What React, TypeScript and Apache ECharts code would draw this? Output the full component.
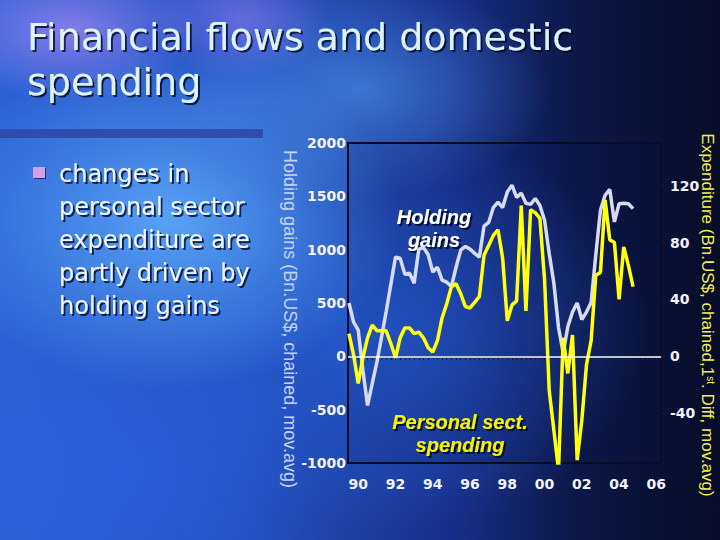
import React, { useEffect, useRef } from "react";
import * as echarts from "echarts";

// Quarterly observations, first one in mid-1989
const startYear = 1989.5;
const quarterStep = 0.25;

// Holding gains (Bn.US$, chained, mov.avg) - left axis
const holdingGains = [
  500, 320, 245, -130, -460, -255, -55, 180, 420, 675,
  930, 920, 770, 780, 685, 1005, 1020, 955, 790, 835,
  715, 695, 655, 835, 995, 1030, 1005, 965, 930, 1220,
  1255, 1395, 1445, 1395, 1540, 1605, 1490, 1530, 1435, 1425,
  1480, 1415, 1275, 965, 685, 270, 30, 280, 415, 500,
  345, 415, 505, 950, 1370, 1510, 1565, 1260, 1430, 1435,
  1430, 1385,
];

// Personal sector spending (Bn.US$, chained, 1st diff, mov.avg) - right axis
const spending = [
  16, 1, -19, -1, 13, 22, 18, 18, 18, 9,
  -1, 13, 20, 20, 16, 17, 13, 6, 3, 11,
  27, 37, 49, 51, 44, 35, 34, 38, 42, 71,
  78, 85, 89, 69, 25, 36, 39, 106, 32, 103,
  101, 97, 54, -24, -52, -80, 13, -12, 15, -73,
  -45, -6, 11, 57, 59, 110, 82, 80, 40, 77,
  64, 49,
];

const xLabelYears = [1990, 1992, 1994, 1996, 1998, 2000, 2002, 2004, 2006];
const rightTickLabels = [-40, 0, 40, 80, 120];
const titleLines = ["Financial flows and domestic", "spending"];
const bulletLines = [
  "changes in",
  "personal sector",
  "expenditure are",
  "partly driven by",
  "holding gains",
];

const xMin = 1989.45;
const xMax = 2006.25;

export default function App() {
  const ref = useRef<HTMLDivElement>(null);

  useEffect(() => {
    if (!ref.current) return;
    const chart = echarts.init(ref.current, null, { renderer: "svg" });

    const toPairs = (arr: number[]) =>
      arr.map((v, i) => [startYear + i * quarterStep, v]);

    const quarterTicks: number[] = [];
    for (let t = 1989.5; t <= xMax + 1e-6; t += 0.25) quarterTicks.push(t);

    const labelFont = "DejaVu Sans";
    const slideFont = "DejaVu Sans";
    const shadow = {
      textShadowColor: "rgba(0,0,30,0.75)",
      textShadowOffsetX: 2,
      textShadowOffsetY: 2,
      textShadowBlur: 1,
    };

    const option: any = {
      animation: false,
      backgroundColor: "transparent",
      grid: {
        left: 348,
        top: 143,
        width: 313,
        height: 320,
        show: true,
        borderColor: "#0a0a26",
        borderWidth: 2,
        backgroundColor: "rgba(8,20,80,0.12)",
      },
      xAxis: {
        type: "value",
        min: xMin,
        max: xMax,
        axisLine: { show: true, lineStyle: { color: "#0a0a26", width: 2 } },
        axisTick: {
          show: true,
          customValues: quarterTicks,
          length: 4,
          inside: false,
          lineStyle: { color: "#1a1a40", width: 1 },
        },
        splitLine: { show: false },
        axisLabel: {
          customValues: xLabelYears,
          formatter: (v: number) => String(Math.round(v) % 100).padStart(2, "0"),
          color: "#f2f2f8",
          fontFamily: labelFont,
          fontWeight: "bold",
          fontSize: 14,
          margin: 14,
        },
      },
      yAxis: [
        {
          type: "value",
          min: -1000,
          max: 2000,
          interval: 500,
          position: "left",
          axisLine: { show: false },
          axisTick: { show: false },
          splitLine: { show: false },
          axisLabel: {
            formatter: (v: number) => String(v),
            color: "#f2f2f8",
            fontFamily: labelFont,
            fontWeight: "bold",
            fontSize: 14,
            margin: 2,
          },
        },
        {
          type: "value",
          min: -75,
          max: 150,
          position: "right",
          axisLine: { show: false },
          axisTick: {
            show: true,
            customValues: rightTickLabels,
            length: 3,
            lineStyle: { color: "#1a1a40" },
          },
          splitLine: { show: false },
          axisLabel: {
            customValues: rightTickLabels,
            formatter: (v: number) => String(v),
            color: "#f2f2f8",
            fontFamily: labelFont,
            fontWeight: "bold",
            fontSize: 14,
            margin: 9,
          },
        },
      ],
      series: [
        {
          type: "line",
          name: "zero",
          data: [],
          z: 1,
          silent: true,
          markLine: {
            silent: true,
            symbol: "none",
            label: { show: false },
            lineStyle: { color: "#ffffff", width: 1.5, type: "solid" },
            data: [{ yAxis: 0 }],
          },
        },
        {
          type: "line",
          name: "Holding gains",
          yAxisIndex: 0,
          data: toPairs(holdingGains),
          showSymbol: false,
          symbol: "none",
          z: 2,
          lineStyle: { color: "#d6dbef", width: 3.5 },
        },
        {
          type: "line",
          name: "Personal sect. spending",
          yAxisIndex: 1,
          data: toPairs(spending),
          showSymbol: false,
          symbol: "none",
          z: 3,
          lineStyle: { color: "#ffff10", width: 3.5 },
        },
      ],
      graphic: [
        {
          type: "rect",
          shape: { x: 0, y: 129, width: 263, height: 9 },
          style: { fill: "#2c4aa6", opacity: 0.9 },
          silent: true,
        },
        {
          type: "text",
          x: 27,
          y: 14,
          style: {
            text: titleLines.join("\n"),
            fill: "#dcf4f8",
            fontFamily: slideFont,
            fontSize: 38,
            lineHeight: 45,
            ...shadow,
          },
        },
        {
          type: "rect",
          shape: { x: 33, y: 167, width: 12, height: 11 },
          style: {
            fill: "#d4a2e4",
            shadowColor: "rgba(0,0,40,0.6)",
            shadowOffsetX: 1,
            shadowOffsetY: 1,
          },
        },
        {
          type: "text",
          x: 59,
          y: 157,
          style: {
            text: bulletLines.join("\n"),
            fill: "#eef6fa",
            fontFamily: slideFont,
            fontSize: 24,
            lineHeight: 33,
            ...shadow,
          },
        },
        {
          type: "text",
          x: 290,
          y: 319,
          rotation: -Math.PI / 2,
          style: {
            text: "Holding gains (Bn.US$, chained, mov.avg)",
            fill: "#c4d4f0",
            fontFamily: "Liberation Sans",
            fontSize: 18,
            align: "center",
            verticalAlign: "middle",
          },
        },
        {
          type: "text",
          x: 707,
          y: 315,
          rotation: -Math.PI / 2,
          style: {
            text: "Expenditure (Bn.US$, chained,1{sup|st}. Diff, mov.avg)",
            fill: "#f0ee50",
            fontFamily: "Liberation Sans",
            fontSize: 17,
            align: "center",
            verticalAlign: "middle",
            rich: {
              sup: {
                fontFamily: "Liberation Sans",
                fontSize: 10,
                fill: "#f0ee50",
                verticalAlign: "top",
                padding: [0, 0, 7, 0],
              },
            },
          },
        },
        {
          type: "text",
          x: 434,
          y: 228,
          style: {
            text: "Holding\ngains",
            fill: "#ffffff",
            fontFamily: "Liberation Sans",
            fontSize: 20,
            fontWeight: "bold",
            fontStyle: "italic",
            lineHeight: 23,
            align: "center",
            verticalAlign: "middle",
            ...shadow,
          },
        },
        {
          type: "text",
          x: 460,
          y: 433,
          style: {
            text: "Personal sect.\nspending",
            fill: "#f6f200",
            fontFamily: "Liberation Sans",
            fontSize: 20,
            fontWeight: "bold",
            fontStyle: "italic",
            lineHeight: 23,
            align: "center",
            verticalAlign: "middle",
            ...shadow,
          },
        },
      ],
    };

    chart.setOption(option);
    return () => chart.dispose();
  }, []);

  const bg = [
    "radial-gradient(ellipse 130px 70px at 70px 30px, rgba(205,150,255,0.55), rgba(205,150,255,0) 100%)",
    "radial-gradient(ellipse 90px 60px at 240px 18px, rgba(175,135,250,0.45), rgba(175,135,250,0) 100%)",
    "radial-gradient(ellipse 230px 170px at 170px 220px, rgba(95,175,255,0.85), rgba(95,175,255,0) 100%)",
    "radial-gradient(ellipse 190px 110px at 360px 90px, rgba(85,160,250,0.55), rgba(85,160,250,0) 100%)",
    "radial-gradient(ellipse 260px 200px at 390px 330px, rgba(40,100,220,0.75), rgba(40,100,220,0) 100%)",
    "radial-gradient(ellipse 200px 150px at 120px 470px, rgba(45,95,225,0.7), rgba(45,95,225,0) 100%)",
    "linear-gradient(90deg, #2c62d6 0%, #2450c0 35%, #17308a 62%, #0d1748 80%, #080c28 100%)",
  ].join(",");

  return (
    <div
      ref={ref}
      style={{
        position: "absolute",
        left: 0,
        top: 0,
        width: 720,
        height: 540,
        background: bg,
      }}
    />
  );
}
